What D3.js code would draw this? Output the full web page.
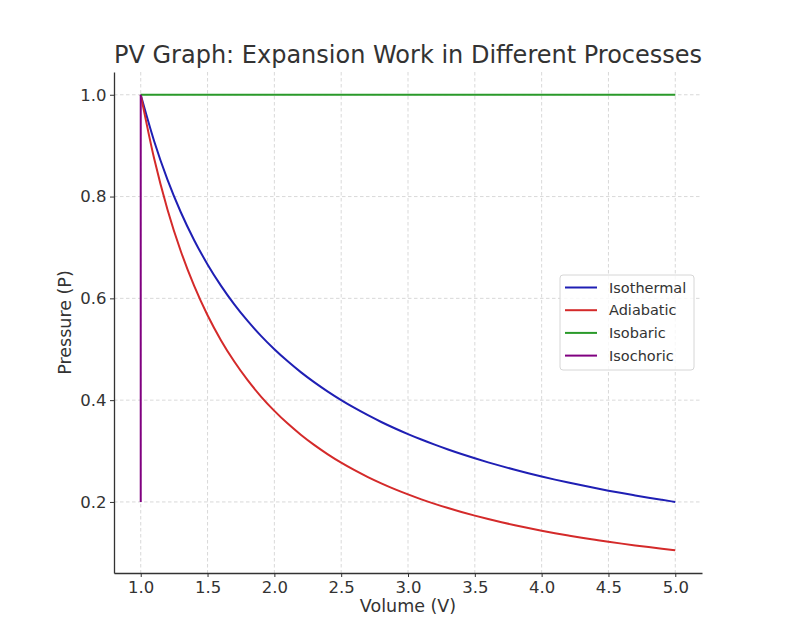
<!DOCTYPE html>
<html><head><meta charset="utf-8">
<script src="https://cdn.jsdelivr.net/npm/d3@7"></script>
<style>body{margin:0;background:#fff}text{font-family:"DejaVu Sans",sans-serif;fill:#333}</style>
</head><body><svg id="c" width="800" height="627"></svg>
<script>
const volume = [1.0,1.1,1.2,1.3,1.4,1.5,1.6,1.7,1.8,1.9,2.0,2.1,2.2,2.3,2.4,2.5,2.6,2.7,2.8,2.9,3.0,3.1,3.2,3.3,3.4,3.5,3.6,3.7,3.8,3.9,4.0,4.1,4.2,4.3,4.4,4.5,4.6,4.7,4.8,4.9,5.0];
const isothermal = [1.0,0.9091,0.8333,0.7692,0.7143,0.6667,0.625,0.5882,0.5556,0.5263,0.5,0.4762,0.4545,0.4348,0.4167,0.4,0.3846,0.3704,0.3571,0.3448,0.3333,0.3226,0.3125,0.3030,0.2941,0.2857,0.2778,0.2703,0.2632,0.2564,0.25,0.2439,0.2381,0.2326,0.2273,0.2222,0.2174,0.2128,0.2083,0.2041,0.2];
const adiabatic = [1.0,0.8751,0.7747,0.6926,0.6244,0.5668,0.5179,0.4758,0.4392,0.4071,0.3789,0.3539,0.3316,0.3116,0.2936,0.2772,0.2624,0.2489,0.2366,0.2252,0.2148,0.2051,0.1962,0.1880,0.1803,0.1731,0.1664,0.1602,0.1543,0.1488,0.1436,0.1387,0.1341,0.1297,0.1257,0.1218,0.1181,0.1146,0.1113,0.1081,0.1051];
const isobaricV = [1.0,5.0], isobaricP = [1.0,1.0];
const isochoricV = [1.0,1.0], isochoricP = [1.0,0.2];
const xTicks = [1.0,1.5,2.0,2.5,3.0,3.5,4.0,4.5,5.0];
const yTicks = [0.2,0.4,0.6,0.8,1.0];
const seriesNames = ["Isothermal","Adiabatic","Isobaric","Isochoric"];
const seriesColors = ["#1f1fb4","#d42a2a","#2a9a2a","#800080"];

const L=114,R=702,T=72,B=573;
const svg=d3.select("#c");
const x=d3.scaleLinear().domain([0.8,5.2]).range([L,R]);
const y=d3.scaleLinear().domain([0.0604,1.0447]).range([B,T]);

// grid
svg.append("g").selectAll("line").data(xTicks).join("line")
 .attr("x1",d=>x(d)).attr("x2",d=>x(d)).attr("y1",T).attr("y2",B)
 .attr("stroke","#cfcfcf").attr("stroke-width",0.8).attr("stroke-dasharray","3.5,2.5");
svg.append("g").selectAll("line").data(yTicks).join("line")
 .attr("y1",d=>y(d)).attr("y2",d=>y(d)).attr("x1",L).attr("x2",R)
 .attr("stroke","#cfcfcf").attr("stroke-width",0.8).attr("stroke-dasharray","3.5,2.5");

const series=[
 {v:volume,p:isothermal},{v:volume,p:adiabatic},{v:isobaricV,p:isobaricP},{v:isochoricV,p:isochoricP}];
const line=d3.line().x(d=>x(d[0])).y(d=>y(d[1])).curve(d3.curveMonotoneX);
const line2=d3.line().x(d=>x(d[0])).y(d=>y(d[1]));
series.forEach((s,i)=>{
  const pts=s.v.map((v,j)=>[v,s.p[j]]);
  svg.append("path").attr("d",(i<2?line:line2)(pts)).attr("fill","none")
   .attr("stroke",seriesColors[i]).attr("stroke-width",2);
});

// axes
const xa=svg.append("g").attr("transform",`translate(0,${B})`)
 .call(d3.axisBottom(x).tickValues(xTicks).tickFormat(d3.format(".1f")).tickSize(4).tickPadding(4).tickSizeOuter(0));
const ya=svg.append("g").attr("transform",`translate(${L},0)`)
 .call(d3.axisLeft(y).tickValues(yTicks).tickFormat(d3.format(".1f")).tickSize(4).tickPadding(3.5).tickSizeOuter(0));
[xa,ya].forEach(a=>{
  a.select(".domain").attr("stroke","#333").attr("stroke-width",1.3);
  a.selectAll(".tick line").attr("stroke","#333").attr("stroke-width",1);
  a.selectAll(".tick text").attr("font-size",16.5).attr("fill","#333").style("font-family","DejaVu Sans");
});

svg.append("text").attr("x",(L+R)/2).attr("y",63).attr("text-anchor","middle").attr("font-size",24).text("PV Graph: Expansion Work in Different Processes");
svg.append("text").attr("x",(L+R)/2).attr("y",612).attr("text-anchor","middle").attr("font-size",17.5).text("Volume (V)");
svg.append("text").attr("transform",`translate(71,${(T+B)/2}) rotate(-90)`).attr("text-anchor","middle").attr("font-size",17.5).text("Pressure (P)");

// legend
const lg=svg.append("g");
lg.append("rect").attr("x",560).attr("y",275).attr("width",134).attr("height",95).attr("rx",3)
 .attr("fill","#fff").attr("fill-opacity",0.8).attr("stroke","#d6d6d6");
seriesNames.forEach((n,i)=>{
  const yy=287.5+i*22.7;
  lg.append("line").attr("x1",565).attr("x2",597).attr("y1",yy).attr("y2",yy).attr("stroke",seriesColors[i]).attr("stroke-width",2);
  lg.append("text").attr("x",609).attr("y",yy+5).attr("font-size",14.5).text(n);
});
</script></body></html>
